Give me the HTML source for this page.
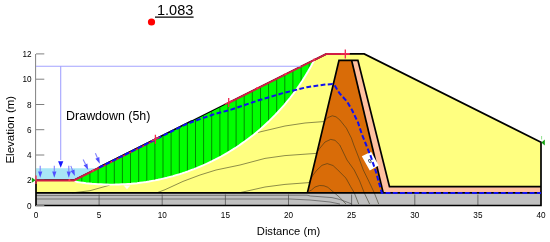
<!DOCTYPE html><html><head><meta charset="utf-8"><title>Drawdown</title><style>html,body{margin:0;padding:0;background:#fff}svg{display:block}text{font-family:"Liberation Sans",Arial,sans-serif;fill:#000}</style></head><body>
<svg width="550" height="242" viewBox="0 0 550 242">
<rect width="550" height="242" fill="#fff"/>
<polygon points="36.0,168.2 97.9,168.2 73.9,180.2 36.0,180.2" fill="#a8e6f6"/>
<polygon points="36.0,192.9 36.0,180.2 73.9,180.2 326.4,53.9 364.2,53.9 541.0,142.3 541.0,192.9" fill="#ffff80"/>
<polygon points="36.0,205.5 36.0,192.9 541.0,192.9 541.0,205.5" fill="#c0c0c0"/>
<polygon points="351.6,60.3 357.9,60.3 389.5,186.6 541.0,186.6 541.0,192.9 383.2,192.9" fill="#ffc0a0"/>
<polygon points="307.4,192.9 339.0,60.3 351.6,60.3 383.2,192.9" fill="#d96c08"/>
<polyline points="258.0,132.4 285.0,126.0 305.0,123.0 323.5,121.6 328.0,117.5 332.3,115.8 336.0,116.8 339.8,119.9 346.4,128.2 351.4,138.1 353.8,145.0 358.5,157.0 363.3,170.0 368.7,181.0 374.2,192.7 378.7,204.0" stroke="#303018" stroke-width="0.55" fill="none"/>
<polyline points="157.6,192.5 165.0,189.7 183.0,181.4 200.0,175.0 216.0,170.0 240.0,165.0 265.0,158.4 285.0,155.6 316.0,153.4 320.0,148.0 325.0,142.0 330.7,139.4 335.0,140.3 339.8,145.0 347.0,160.0 354.2,170.0 359.6,180.9 364.2,192.7 369.6,204.0" stroke="#303018" stroke-width="0.55" fill="none"/>
<polyline points="241.0,192.4 265.0,187.0 285.0,184.4 309.0,182.6 313.0,175.0 317.0,170.0 322.0,165.3 327.2,163.6 333.0,165.5 337.8,170.0 346.0,178.2 350.5,186.4 354.2,192.7 358.7,204.0" stroke="#303018" stroke-width="0.55" fill="none"/>
<polyline points="309.5,191.0 311.5,190.0 315.0,187.0 319.6,185.5 324.0,185.8 327.8,187.3 334.2,192.7 339.6,197.3 346.0,204.0" stroke="#303018" stroke-width="0.55" fill="none"/>
<polyline points="72.0,192.9 90.0,190.7 109.6,185.2" stroke="#303018" stroke-width="0.55" fill="none"/>
<polyline points="36.0,195.6 307.0,195.2 310.5,196.0 332.0,197.6 340.0,199.5 352.0,204.0" stroke="#555555" stroke-width="0.7" fill="none"/>
<polyline points="36.0,199.0 290.0,199.0 310.0,200.0 330.0,202.0 340.0,204.0" stroke="#555555" stroke-width="0.7" fill="none"/>
<path d="M99.1,205.5V194.5M162.2,205.5V194.5M225.4,205.5V194.5M288.5,205.5V194.5M351.6,205.5V194.5M414.8,205.5V194.5M477.9,205.5V194.5" stroke="#555" stroke-width="0.8" fill="none"/>
<polyline points="36.0,180.2 73.9,180.2 326.4,53.9 364.2,53.9 541.0,142.3 541.0,205.5 36.0,205.5 36.0,180.2" stroke="#000" stroke-width="1.7" fill="none" stroke-linejoin="miter"/>
<polyline points="36.0,192.9 541.0,192.9" stroke="#000" stroke-width="1.7" fill="none" stroke-linejoin="miter"/>
<polyline points="307.4,192.9 339.0,60.3 357.9,60.3 389.5,186.6 541.0,186.6" stroke="#000" stroke-width="1.7" fill="none" stroke-linejoin="miter"/>
<polyline points="351.6,60.3 383.2,192.9" stroke="#000" stroke-width="1.7" fill="none" stroke-linejoin="miter"/>
<polygon points="74.2,180.7 77.0,182.0 80.0,182.4 83.0,182.8 86.0,183.2 89.0,183.5 92.0,183.8 95.0,184.0 98.0,184.2 101.0,184.3 104.0,184.5 107.0,184.5 110.0,184.6 113.0,184.6 116.0,184.5 119.0,184.5 122.0,184.3 125.0,184.2 128.0,184.0 131.0,183.8 134.0,183.5 137.0,183.2 140.0,182.8 143.0,182.4 146.0,182.0 149.0,181.5 152.0,180.9 155.0,180.4 158.0,179.8 161.0,179.1 164.0,178.4 167.0,177.7 170.0,176.9 173.0,176.1 176.0,175.2 179.0,174.3 182.0,173.4 185.0,172.4 188.0,171.3 191.0,170.2 194.0,169.1 197.0,167.9 200.0,166.6 203.0,165.4 206.0,164.0 209.0,162.6 212.0,161.2 215.0,159.7 218.0,158.1 221.0,156.5 224.0,154.8 227.0,153.1 230.0,151.2 233.0,149.4 236.0,147.5 239.0,145.5 242.0,143.4 245.0,141.2 248.0,139.0 251.0,136.7 254.0,134.4 257.0,131.9 260.0,129.4 263.0,126.7 266.0,124.0 269.0,121.2 272.0,118.2 275.0,115.2 278.0,112.0 281.0,108.7 284.0,105.3 287.0,101.7 290.0,98.0 293.0,94.1 296.0,90.0 299.0,85.8 302.0,81.3 305.0,76.5 308.0,71.5 311.0,66.2 313.9,60.8 313.8,60.3" fill="#00ff00"/>
<path d="M81.8,176.2V182.6M89.9,172.2V183.6M98.1,168.1V184.2M106.2,164.1V184.5M114.3,160.0V184.6M122.4,155.9V184.3M130.5,151.9V183.8M138.7,147.8V183.0M146.8,143.8V181.8M154.9,139.7V180.4M163.0,135.6V178.7M171.1,131.6V176.6M179.3,127.5V174.2M187.4,123.5V171.5M195.5,119.4V168.5M203.6,115.3V165.1M211.7,111.3V161.3M219.9,107.2V157.1M228.0,103.2V152.5M236.1,99.1V147.4M244.2,95.0V141.8M252.3,91.0V135.7M260.5,86.9V129.0M268.6,82.9V121.6M276.7,78.8V113.4M284.8,74.7V104.3M292.9,70.7V94.2M301.1,66.6V82.7M309.2,62.6V69.4" stroke="#003000" stroke-width="0.7" fill="none" opacity="0.8"/>
<polyline points="74.2,180.7 77.0,182.0 80.0,182.4 83.0,182.8 86.0,183.2 89.0,183.5 92.0,183.8 95.0,184.0 98.0,184.2 101.0,184.3 104.0,184.5 107.0,184.5 110.0,184.6 113.0,184.6 116.0,184.5 119.0,184.5 122.0,184.3 125.0,184.2 128.0,184.0 131.0,183.8 134.0,183.5 137.0,183.2 140.0,182.8 143.0,182.4 146.0,182.0 149.0,181.5 152.0,180.9 155.0,180.4 158.0,179.8 161.0,179.1 164.0,178.4 167.0,177.7 170.0,176.9 173.0,176.1 176.0,175.2 179.0,174.3 182.0,173.4 185.0,172.4 188.0,171.3 191.0,170.2 194.0,169.1 197.0,167.9 200.0,166.6 203.0,165.4 206.0,164.0 209.0,162.6 212.0,161.2 215.0,159.7 218.0,158.1 221.0,156.5 224.0,154.8 227.0,153.1 230.0,151.2 233.0,149.4 236.0,147.5 239.0,145.5 242.0,143.4 245.0,141.2 248.0,139.0 251.0,136.7 254.0,134.4 257.0,131.9 260.0,129.4 263.0,126.7 266.0,124.0 269.0,121.2 272.0,118.2 275.0,115.2 278.0,112.0 281.0,108.7 284.0,105.3 287.0,101.7 290.0,98.0 293.0,94.1 296.0,90.0 299.0,85.8 302.0,81.3 305.0,76.5 308.0,71.5 311.0,66.2 313.9,60.8" stroke="#fff" stroke-width="1.9" fill="none" stroke-linejoin="round"/>
<polygon points="123.7,185.4 130.3,185.4 127.0,189.2" fill="#fff"/>
<path d="M35.6,54V181" stroke="#808080" stroke-width="1" fill="none"/>
<path d="M36,205.5H44.3M36,180.2H44.3M36,155.0H44.3M36,129.7H44.3M36,104.5H44.3M36,79.2H44.3M36,53.9H44.3" stroke="#808080" stroke-width="1" fill="none"/>
<polyline points="36.0,180.4 73.9,180.4 155.4,139.6" stroke="#d01c44" stroke-width="2" fill="none"/>
<polyline points="228.7,102.8 326.4,53.9 349.6,53.9" stroke="#d01c44" stroke-width="2" fill="none"/>
<circle cx="257.2" cy="88" r="1.1" fill="#ff3050"/>
<circle cx="285.5" cy="74" r="1.1" fill="#ff3050"/>
<circle cx="314.2" cy="59.6" r="1.1" fill="#ff3050"/>
<circle cx="69.4" cy="180.2" r="1.1" fill="#ff3050"/>
<circle cx="93" cy="170.6" r="1.1" fill="#ff3050"/>
<circle cx="112" cy="161" r="1.1" fill="#ff3050"/>
<polyline points="98.7,166.9 191.7,120.4" stroke="#000" stroke-width="0.8" fill="none"/>
<polygon points="361.8,156.2 371.1,151.8 378.7,165.4 369.8,170.4" fill="#fff"/>
<text x="0" y="0" font-size="6" font-weight="bold" text-anchor="middle" transform="translate(370.0,161.2) rotate(-25) translate(0,2.1)" style="fill:#1a2a55">0</text>
<polyline points="99.0,167.6 185.0,124.7 198.0,119.8 214.6,114.0 231.2,109.6 257.0,100.8 282.0,93.4 306.8,87.2 325.0,84.6 332.5,84.0 335.0,86.0 339.6,93.4 347.0,101.5 352.0,110.0 358.0,122.4 362.0,134.7 365.4,143.0 370.6,155.8 376.0,172.0 381.8,192.9 541.0,192.9" stroke="#1010f0" stroke-width="2" stroke-dasharray="4.8 2.4" fill="none"/>
<path d="M151.4,141.2L159.4,137.2M155.4,134.7V143.7M224.7,104.4L232.7,100.4M228.7,97.9V106.9M340.8,53.9L349.8,53.9M345.3,49.4V58.4M36,175.5V184" stroke="#f02850" stroke-width="1.3" fill="none"/>
<path d="M36,66.3H300.5M60.7,66.3V160" stroke="#a4a4ff" stroke-width="1.1" fill="none"/>
<polygon points="58.1,161.3 63.3,161.3 60.7,167.8" fill="#1818ff"/>
<path d="M40.2,165.8L40.2,171.5" stroke="#8080ff" stroke-width="1.1" fill="none"/><polygon points="38.1,171.5 42.3,171.5 40.2,177.8" fill="#5050ff"/>
<path d="M54.3,165.8L54.3,171.5" stroke="#8080ff" stroke-width="1.1" fill="none"/><polygon points="52.2,171.5 56.4,171.5 54.3,177.8" fill="#5050ff"/>
<path d="M68.8,165.8L68.8,171.5" stroke="#8080ff" stroke-width="1.1" fill="none"/><polygon points="66.7,171.5 70.9,171.5 68.8,177.8" fill="#5050ff"/>
<path d="M70.8,165.9L72.5,170.2" stroke="#8080ff" stroke-width="1.1" fill="none"/><polygon points="70.6,171.0 74.5,169.4 74.9,176.0" fill="#5050ff"/>
<path d="M83.1,159.4L85.5,164.3" stroke="#8080ff" stroke-width="1.1" fill="none"/><polygon points="83.6,165.2 87.4,163.4 88.2,170.0" fill="#5050ff"/>
<path d="M95.4,153.2L97.4,157.9" stroke="#8080ff" stroke-width="1.1" fill="none"/><polygon points="95.4,158.7 99.3,157.1 99.8,163.7" fill="#5050ff"/>
<polygon points="31.8,177.6 31.8,182.8 35.6,180.2" fill="#10a010"/>
<polygon points="544.8,139.4 544.8,145.4 541.4,142.4" fill="#10a010"/>
<path d="M541.6,136V139.5" stroke="#90e090" stroke-width="1" fill="none"/>
<circle cx="151.5" cy="22" r="3.6" fill="#ff0000"/>
<text x="157" y="14.9" font-size="14.5">1.083</text>
<path d="M155,17.1H193.6" stroke="#000" stroke-width="1.3"/>
<text x="66.1" y="120.3" font-size="12.45">Drawdown (5h)</text>
<text x="31.5" y="208.6" font-size="8.2" text-anchor="end">0</text>
<text x="31.5" y="183.3" font-size="8.2" text-anchor="end">2</text>
<text x="31.5" y="158.0" font-size="8.2" text-anchor="end">4</text>
<text x="31.5" y="132.8" font-size="8.2" text-anchor="end">6</text>
<text x="31.5" y="107.5" font-size="8.2" text-anchor="end">8</text>
<text x="31.5" y="82.2" font-size="8.2" text-anchor="end">10</text>
<text x="31.5" y="57.0" font-size="8.2" text-anchor="end">12</text>
<text x="36.0" y="217.6" font-size="8.2" text-anchor="middle">0</text>
<text x="99.1" y="217.6" font-size="8.2" text-anchor="middle">5</text>
<text x="162.2" y="217.6" font-size="8.2" text-anchor="middle">10</text>
<text x="225.4" y="217.6" font-size="8.2" text-anchor="middle">15</text>
<text x="288.5" y="217.6" font-size="8.2" text-anchor="middle">20</text>
<text x="351.6" y="217.6" font-size="8.2" text-anchor="middle">25</text>
<text x="414.8" y="217.6" font-size="8.2" text-anchor="middle">30</text>
<text x="477.9" y="217.6" font-size="8.2" text-anchor="middle">35</text>
<text x="541.0" y="217.6" font-size="8.2" text-anchor="middle">40</text>
<text x="288.5" y="235" font-size="11.2" text-anchor="middle">Distance (m)</text>
<text font-size="11.5" text-anchor="middle" transform="translate(14.2,129.7) rotate(-90)">Elevation (m)</text>
</svg></body></html>
